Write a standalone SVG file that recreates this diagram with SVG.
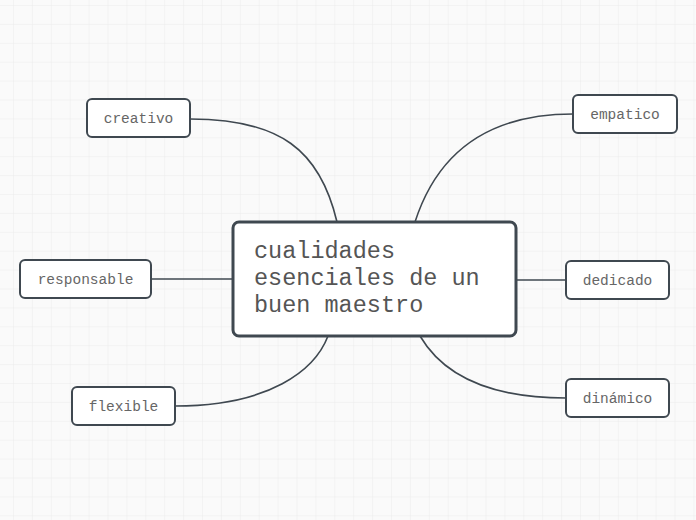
<svg xmlns="http://www.w3.org/2000/svg" width="696" height="520" viewBox="0 0 696 520">
<defs>
<pattern id="g" x="13" y="5" width="18.9" height="18.9" patternUnits="userSpaceOnUse"><path d="M0 0H18.9M0 0V18.9" fill="none" stroke="#ececec" stroke-width="1"/></pattern>
<style>
.n rect{fill:#fff;stroke:#3f4850;stroke-width:2}
.n text{font-family:"Liberation Mono","Courier New",monospace;font-size:14.5px;fill:#666;text-anchor:middle}
.n text.big{font-size:23.5px;text-anchor:start;fill:#555}
.c path{fill:none;stroke:#3f4850;stroke-width:1.6}
</style>
</defs>
<rect width="696" height="520" fill="#fafafa"/>
<rect width="696" height="520" fill="url(#g)"/>
<g class="c">
<path d="M190 119C280 119 320 150 337 222"/>
<path d="M573 114C480 114 435 160 415 222"/>
<path d="M151 279H233"/>
<path d="M566 280H516"/>
<path d="M175 406C270 406 315 370 328 336"/>
<path d="M566 398C480 398 440 370 420 336"/>
</g>
<g id="center" class="n"><rect x="233" y="222" width="283" height="114" rx="6" style="stroke-width:3"/>
<text class="big" x="254" y="258">cualidades</text>
<text class="big" x="254" y="285">esenciales de un</text>
<text class="big" x="254" y="312">buen maestro</text></g>
<g id="creativo" class="n"><rect x="87" y="99" width="103" height="38" rx="5"/><text x="138.5" y="122.5">creativo</text></g>
<g id="empatico" class="n"><rect x="573" y="95" width="104" height="38" rx="5"/><text x="625" y="118.5">empatico</text></g>
<g id="responsable" class="n"><rect x="20" y="260" width="131" height="38" rx="5"/><text x="85.5" y="283.5">responsable</text></g>
<g id="dedicado" class="n"><rect x="566" y="261" width="103" height="38" rx="5"/><text x="617.5" y="284.5">dedicado</text></g>
<g id="flexible" class="n"><rect x="72" y="387" width="103" height="38" rx="5"/><text x="123.5" y="410.5">flexible</text></g>
<g id="dinamico" class="n"><rect x="566" y="379" width="103" height="38" rx="5"/><text x="617.5" y="402.5">dinámico</text></g>
</svg>
